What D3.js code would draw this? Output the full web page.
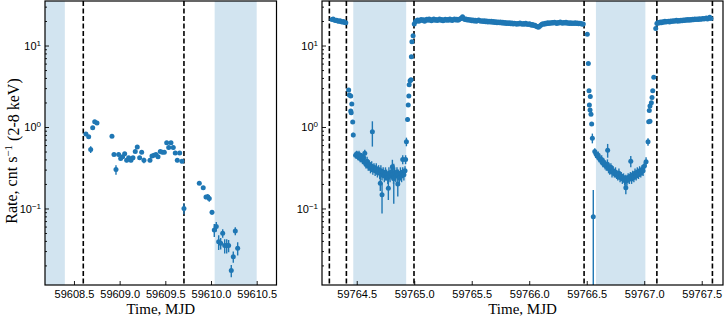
<!DOCTYPE html>
<html lang="en">
<head>
<meta charset="UTF-8">
<title>Light curve</title>
<script src="https://cdn.jsdelivr.net/npm/d3@7/dist/d3.min.js"></script>
<style>
    body { margin: 0; background: #fff; }
    svg { display: block; font-family: "Liberation Serif", "DejaVu Serif", serif; }
    .tick text { font-size: 11px; fill: #000; }
    .tick line { stroke: #000; stroke-width: 0.9; }
    .frame { fill: none; stroke: #000; stroke-width: 1.2; }
    .shade { fill: #d2e4f0; }
    .vline { stroke: #000; stroke-width: 1.6; stroke-dasharray: 5,2.5; }
    .err { stroke: #1f77b4; stroke-width: 1.4; }
    .dot { fill: #1f77b4; }
    .axis-label { font-size: 15px; fill: #000; }
</style>
</head>
<body>
<svg width="725" height="317"></svg>
<script>

    // ---- data ----
    var yDomain = [0.0115, 35.2];
    var yMajor = [0.1, 1, 10];
    var yMinor = [0.02, 0.03, 0.04, 0.05, 0.06, 0.07, 0.08, 0.09,
                  0.2, 0.3, 0.4, 0.5, 0.6, 0.7, 0.8, 0.9,
                  2, 3, 4, 5, 6, 7, 8, 9, 20, 30];

    var leftDomain = [59608.183, 59610.717];
    var leftTicks = [59608.5, 59609.0, 59609.5, 59610.0, 59610.5];
    var leftShade = [[59608.0, 59608.40], [59610.04, 59610.50]];
    var leftDash = [59608.602, 59609.704];

    var rightDomain = [59764.198, 59767.685];
    var rightTicks = [59764.5, 59765.0, 59765.5, 59766.0, 59766.5, 59767.0, 59767.5];
    var rightShade = [[59764.47, 59764.93], [59766.58, 59767.01]];
    var rightDash = [59764.262, 59764.410, 59764.998, 59766.477, 59767.110, 59767.593];

    // [MJD, rate, error]
    var leftRows = [
        [59608.631, 0.82, 0.03], [59608.661, 0.76, 0.03], [59608.683, 0.53, 0.05],
        [59608.705, 0.98, 0.04], [59608.727, 1.16, 0.04], [59608.752, 1.12, 0.04],
        [59608.916, 0.77, 0.03], [59608.938, 0.46, 0.02], [59608.960, 0.30, 0.04],
        [59608.989, 0.46, 0.02], [59609.011, 0.41, 0.02], [59609.033, 0.43, 0.02],
        [59609.055, 0.47, 0.02], [59609.077, 0.39, 0.02], [59609.099, 0.42, 0.02],
        [59609.124, 0.39, 0.02], [59609.146, 0.42, 0.02], [59609.171, 0.50, 0.02],
        [59609.193, 0.57, 0.02], [59609.219, 0.42, 0.02], [59609.241, 0.49, 0.02],
        [59609.266, 0.39, 0.03], [59609.332, 0.39, 0.02], [59609.354, 0.44, 0.02],
        [59609.376, 0.45, 0.02], [59609.398, 0.46, 0.02], [59609.420, 0.43, 0.02],
        [59609.445, 0.50, 0.02], [59609.467, 0.49, 0.02], [59609.489, 0.49, 0.02],
        [59609.515, 0.64, 0.03], [59609.537, 0.56, 0.03], [59609.562, 0.64, 0.03],
        [59609.587, 0.56, 0.03], [59609.609, 0.48, 0.02], [59609.631, 0.39, 0.02],
        [59609.657, 0.48, 0.02], [59609.682, 0.38, 0.02], [59609.704, 0.10, 0.015],
        [59609.872, 0.204, 0.008], [59609.915, 0.179, 0.008], [59609.945, 0.138, 0.008],
        [59609.964, 0.139, 0.010], [59609.981, 0.133, 0.012], [59610.011, 0.090, 0.006],
        [59610.036, 0.0545, 0.010], [59610.058, 0.060, 0.008], [59610.084, 0.039, 0.008],
        [59610.106, 0.0374, 0.006], [59610.128, 0.0497, 0.006], [59610.150, 0.035, 0.007],
        [59610.172, 0.035, 0.007], [59610.193, 0.035, 0.006], [59610.222, 0.0173, 0.003],
        [59610.244, 0.0256, 0.004], [59610.266, 0.053, 0.006], [59610.292, 0.0325, 0.006]
    ];

    var preDip = [
        [59764.285, 20.8, 0], [59764.295, 21.1, 0], [59764.305, 20.6, 0], [59764.315, 20.3, 0],
        [59764.325, 20.5, 0], [59764.335, 20.0, 0], [59764.345, 19.8, 0], [59764.355, 20.1, 0],
        [59764.365, 19.6, 0], [59764.375, 19.4, 0], [59764.385, 19.7, 0], [59764.395, 19.2, 0],
        [59764.405, 19.0, 0]
    ];

    var dip1 = [
        [59764.430, 2.84, 0.1], [59764.436, 2.47, 0.1], [59764.448, 2.40, 0.1], [59764.457, 1.92, 0.08],
        [59764.448, 1.57, 0.07], [59764.452, 1.50, 0.07], [59764.465, 1.15, 0.06], [59764.470, 0.80, 0.05],
        [59764.49, 0.45, 0.04], [59764.50, 0.47, 0.04], [59764.51, 0.43, 0.04], [59764.52, 0.46, 0.05],
        [59764.53, 0.41, 0.04], [59764.54, 0.44, 0.04], [59764.55, 0.39, 0.04], [59764.56, 0.42, 0.05],
        [59764.57, 0.37, 0.04], [59764.58, 0.35, 0.04], [59764.59, 0.38, 0.05], [59764.60, 0.33, 0.04],
        [59764.61, 0.35, 0.04], [59764.62, 0.31, 0.04], [59764.63, 0.33, 0.05], [59764.64, 0.30, 0.04],
        [59764.65, 0.32, 0.04], [59764.66, 0.29, 0.04], [59764.67, 0.31, 0.05], [59764.68, 0.28, 0.04],
        [59764.69, 0.30, 0.04], [59764.70, 0.27, 0.04], [59764.71, 0.29, 0.05], [59764.72, 0.26, 0.04],
        [59764.73, 0.28, 0.04], [59764.74, 0.25, 0.04], [59764.75, 0.27, 0.05], [59764.76, 0.26, 0.04],
        [59764.77, 0.24, 0.04], [59764.78, 0.27, 0.05], [59764.79, 0.25, 0.04], [59764.80, 0.28, 0.04],
        [59764.81, 0.26, 0.04], [59764.82, 0.24, 0.04], [59764.83, 0.27, 0.05], [59764.84, 0.25, 0.04],
        [59764.85, 0.28, 0.04], [59764.86, 0.26, 0.04], [59764.87, 0.24, 0.04], [59764.88, 0.27, 0.05],
        [59764.89, 0.25, 0.04], [59764.90, 0.28, 0.04], [59764.91, 0.26, 0.04], [59764.92, 0.29, 0.04],
        [59764.570, 0.475, 0.05], [59764.636, 0.875, 0.30], [59764.705, 0.204, 0.04], [59764.720, 0.147, 0.06],
        [59764.775, 0.177, 0.05], [59764.810, 0.326, 0.07], [59764.822, 0.234, 0.12], [59764.857, 0.200, 0.06],
        [59764.900, 0.40, 0.05],
        [59764.925, 0.40, 0.05], [59764.932, 0.66, 0.08], [59764.942, 1.24, 0.08], [59764.948, 1.86, 0.1],
        [59764.953, 2.40, 0.1], [59764.956, 3.30, 0.15], [59764.964, 3.70, 0.15], [59764.972, 3.80, 0.15],
        [59764.975, 7.30, 0.3], [59764.980, 11.1, 0.4], [59764.990, 13.2, 0.5]
    ];

    var plateau1 = [
        [59765.00, 18.4], [59765.01, 19.6], [59765.02, 20.2], [59765.03, 20.6], [59765.04, 19.9],
        [59765.05, 20.5], [59765.06, 20.9], [59765.07, 20.3], [59765.08, 20.7], [59765.09, 19.9],
        [59765.10, 20.6], [59765.11, 21.0], [59765.12, 20.4], [59765.13, 21.2], [59765.14, 20.6],
        [59765.15, 20.2], [59765.16, 20.9], [59765.17, 21.1], [59765.18, 20.4], [59765.19, 20.8],
        [59765.20, 20.3], [59765.21, 20.7], [59765.22, 21.1], [59765.23, 20.5], [59765.24, 20.9],
        [59765.25, 20.2], [59765.26, 20.6], [59765.27, 21.0], [59765.28, 20.4], [59765.29, 20.8],
        [59765.30, 20.5], [59765.31, 21.1], [59765.32, 20.7], [59765.33, 20.3], [59765.34, 20.9],
        [59765.35, 21.2], [59765.36, 20.6], [59765.37, 21.0], [59765.38, 20.5], [59765.39, 20.8],
        [59765.40, 21.3], [59765.41, 21.6], [59765.42, 22.5], [59765.43, 21.4], [59765.44, 20.8],
        [59765.45, 21.1], [59765.46, 20.6], [59765.47, 20.9], [59765.48, 20.4], [59765.49, 20.7],
        [59765.50, 20.2], [59765.51, 20.6], [59765.52, 20.0], [59765.53, 20.4], [59765.54, 19.9],
        [59765.55, 20.3], [59765.56, 20.6], [59765.57, 20.1], [59765.58, 19.8], [59765.59, 20.2],
        [59765.60, 19.7], [59765.61, 20.1], [59765.62, 19.6], [59765.63, 20.0], [59765.64, 19.5],
        [59765.65, 19.9], [59765.66, 19.4], [59765.67, 19.8], [59765.68, 19.3], [59765.69, 19.7],
        [59765.70, 19.2], [59765.71, 19.6], [59765.72, 19.1], [59765.73, 19.5], [59765.74, 19.0],
        [59765.75, 19.4], [59765.76, 18.9], [59765.77, 19.3], [59765.78, 18.8], [59765.79, 19.2],
        [59765.80, 18.7], [59765.81, 19.1], [59765.82, 18.6], [59765.83, 19.0], [59765.84, 18.5],
        [59765.85, 18.9], [59765.86, 18.4], [59765.87, 18.8], [59765.88, 18.6], [59765.89, 18.3],
        [59765.90, 18.7], [59765.91, 18.4], [59765.92, 18.9], [59765.93, 18.5], [59765.94, 18.2],
        [59765.95, 18.6], [59765.96, 18.3], [59765.97, 18.8], [59765.98, 18.4], [59765.99, 18.1],
        [59766.00, 18.5], [59766.01, 18.2], [59766.02, 17.8], [59766.03, 18.1], [59766.04, 17.6],
        [59766.05, 17.8], [59766.06, 17.3], [59766.07, 17.0], [59766.08, 16.8], [59766.09, 17.3],
        [59766.10, 17.8], [59766.11, 18.2], [59766.12, 18.5], [59766.13, 18.3], [59766.14, 18.8],
        [59766.15, 18.5], [59766.16, 19.0], [59766.17, 18.7], [59766.18, 19.1], [59766.19, 18.8],
        [59766.20, 19.2], [59766.21, 18.9], [59766.22, 19.3], [59766.23, 19.0], [59766.24, 18.7],
        [59766.25, 19.2], [59766.26, 18.9], [59766.27, 19.4], [59766.28, 19.0], [59766.29, 18.8],
        [59766.30, 19.2], [59766.31, 18.9], [59766.32, 19.3], [59766.33, 18.8], [59766.34, 19.1],
        [59766.35, 18.7], [59766.36, 19.0], [59766.37, 18.6], [59766.38, 18.9], [59766.39, 18.7],
        [59766.40, 19.0], [59766.41, 18.6], [59766.42, 18.9], [59766.43, 18.5], [59766.44, 18.8],
        [59766.45, 18.6], [59766.46, 18.3], [59766.47, 18.4]
    ];

    var dip2 = [
        [59766.505, 13.8, 0.5], [59766.514, 6.0, 0.25], [59766.520, 2.79, 0.1], [59766.531, 2.36, 0.1],
        [59766.523, 1.86, 0.08], [59766.529, 1.62, 0.07], [59766.537, 1.43, 0.07], [59766.543, 1.09, 0.06],
        [59766.549, 0.73, 0.10], [59766.557, 0.079, 0.09],
        [59766.57, 0.50, 0.05], [59766.58, 0.47, 0.05], [59766.59, 0.44, 0.04], [59766.60, 0.45, 0.05],
        [59766.61, 0.41, 0.04], [59766.62, 0.39, 0.04], [59766.63, 0.40, 0.05], [59766.64, 0.36, 0.04],
        [59766.65, 0.37, 0.04], [59766.66, 0.34, 0.04], [59766.67, 0.33, 0.04], [59766.68, 0.35, 0.05],
        [59766.69, 0.31, 0.04], [59766.70, 0.30, 0.04], [59766.71, 0.32, 0.04], [59766.72, 0.28, 0.04],
        [59766.73, 0.29, 0.04], [59766.74, 0.27, 0.03], [59766.75, 0.28, 0.04], [59766.76, 0.26, 0.03],
        [59766.77, 0.25, 0.03], [59766.78, 0.27, 0.04], [59766.79, 0.24, 0.03], [59766.80, 0.25, 0.03],
        [59766.81, 0.23, 0.03], [59766.82, 0.24, 0.03], [59766.83, 0.22, 0.03], [59766.84, 0.23, 0.03],
        [59766.85, 0.22, 0.03], [59766.86, 0.24, 0.03], [59766.87, 0.23, 0.03], [59766.88, 0.25, 0.03],
        [59766.89, 0.23, 0.03], [59766.90, 0.26, 0.03], [59766.91, 0.24, 0.03], [59766.92, 0.27, 0.04],
        [59766.93, 0.25, 0.03], [59766.94, 0.28, 0.04], [59766.95, 0.26, 0.03], [59766.96, 0.29, 0.04],
        [59766.97, 0.27, 0.03], [59766.98, 0.30, 0.04], [59766.99, 0.29, 0.04], [59767.00, 0.33, 0.04],
        [59766.682, 0.52, 0.10], [59766.883, 0.38, 0.06], [59766.840, 0.18, 0.03],
        [59767.016, 0.375, 0.05], [59767.033, 0.66, 0.07], [59767.039, 1.16, 0.06], [59767.050, 1.18, 0.06],
        [59767.044, 1.59, 0.07], [59767.050, 1.81, 0.08], [59767.062, 1.99, 0.08], [59767.068, 2.31, 0.1],
        [59767.074, 2.79, 0.1], [59767.083, 4.07, 0.15]
    ];

    var plateau2 = [
        [59767.10, 16.2], [59767.11, 18.6], [59767.12, 19.2], [59767.13, 18.9], [59767.14, 19.4],
        [59767.15, 19.1], [59767.16, 19.6], [59767.17, 19.3], [59767.18, 19.8], [59767.19, 19.4],
        [59767.20, 19.7], [59767.21, 19.9], [59767.22, 19.5], [59767.23, 20.0], [59767.24, 19.7],
        [59767.25, 20.2], [59767.26, 19.8], [59767.27, 20.1], [59767.28, 20.4], [59767.29, 19.9],
        [59767.30, 20.3], [59767.31, 20.0], [59767.32, 20.5], [59767.33, 20.2], [59767.34, 20.6],
        [59767.35, 20.3], [59767.36, 20.7], [59767.37, 20.4], [59767.38, 20.8], [59767.39, 20.5],
        [59767.40, 20.9], [59767.41, 20.6], [59767.42, 21.0], [59767.43, 20.7], [59767.44, 21.1],
        [59767.45, 20.8], [59767.46, 21.2], [59767.47, 20.9], [59767.48, 21.3], [59767.49, 21.0],
        [59767.50, 21.2], [59767.51, 21.5], [59767.52, 21.1], [59767.53, 21.4], [59767.54, 21.7],
        [59767.55, 21.2], [59767.56, 21.6], [59767.57, 22.2], [59767.58, 21.4]
    ];

    var rightRows = preDip.concat(dip1, plateau1, dip2, plateau2);

    // ---- layout ----
    var svg = d3.select('svg');
    var plotTop = 1, plotBottom = 285;

    var panels = [
        { id: 'l', x0: 45, x1: 276.5, domain: leftDomain, ticks: leftTicks,
          shade: leftShade, dash: leftDash, rows: leftRows },
        { id: 'r', x0: 322, x1: 723, domain: rightDomain, ticks: rightTicks,
          shade: rightShade, dash: rightDash, rows: rightRows }
    ];

    var yScale = d3.scaleLog().domain(yDomain).range([plotBottom - plotTop, 0]);

    panels.forEach(function(p) {
        var w = p.x1 - p.x0, h = plotBottom - plotTop;
        var xScale = d3.scaleLinear().domain(p.domain).range([0, w]);

        var g = svg.append('g').attr('transform', 'translate(' + [p.x0, plotTop] + ')');

        g.append('clipPath').attr('id', 'clip-' + p.id)
            .append('rect').attr('width', w).attr('height', h);

        var plot = g.append('g').attr('clip-path', 'url(#clip-' + p.id + ')');

        plot.selectAll('.shade').data(p.shade).enter().append('rect')
            .classed('shade', true)
            .attr('x', function(d) { return xScale(d[0]); })
            .attr('width', function(d) { return xScale(d[1]) - xScale(d[0]); })
            .attr('y', 0).attr('height', h);

        plot.selectAll('.vline').data(p.dash).enter().append('line')
            .classed('vline', true)
            .attr('x1', function(d) { return xScale(d); })
            .attr('x2', function(d) { return xScale(d); })
            .attr('y1', 0).attr('y2', h);

        plot.selectAll('.err').data(p.rows.filter(function(d) { return d[2] > 0; }))
            .enter().append('line')
            .classed('err', true)
            .attr('x1', function(d) { return xScale(d[0]); })
            .attr('x2', function(d) { return xScale(d[0]); })
            .attr('y1', function(d) { return yScale(d[1] + d[2]); })
            .attr('y2', function(d) {
                return d[1] - d[2] > 0 ? yScale(d[1] - d[2]) : h + 5;
            });

        plot.selectAll('.dot').data(p.rows).enter().append('circle')
            .classed('dot', true)
            .attr('cx', function(d) { return xScale(d[0]); })
            .attr('cy', function(d) { return yScale(d[1]); })
            .attr('r', 2.5);

        // x axis, ticks pointing in
        var xAxis = d3.axisBottom(xScale).tickValues(p.ticks)
            .tickSizeInner(-4).tickSizeOuter(0).tickPadding(5)
            .tickFormat(d3.format('.1f'));
        var xg = g.append('g').attr('transform', 'translate(0,' + h + ')').call(xAxis);
        xg.select('.domain').remove();
        xg.selectAll('.tick text').attr('y', 5);

        // y axis minor ticks
        var yMinorAxis = d3.axisLeft(yScale).tickValues(yMinor)
            .tickSizeInner(-2).tickSizeOuter(0).tickFormat('');
        g.append('g').call(yMinorAxis).select('.domain').remove();

        // y axis major ticks with 10^n labels
        var yAxis = d3.axisLeft(yScale).tickValues(yMajor)
            .tickSizeInner(-4).tickSizeOuter(0).tickPadding(4).tickFormat('');
        var yg = g.append('g').call(yAxis);
        yg.select('.domain').remove();
        yg.selectAll('.tick text').each(function(d) {
            var t = d3.select(this).attr('dy', '0.32em');
            t.append('tspan').text('10');
            t.append('tspan').attr('dy', '-0.45em').style('font-size', '8px')
                .text(String(Math.round(Math.log10(d))).replace('-', '\u2212'));
        });

        g.append('rect').classed('frame', true).attr('width', w).attr('height', h);

        g.append('text').classed('axis-label', true)
            .attr('x', w / 2).attr('y', 314 - plotTop)
            .attr('text-anchor', 'middle')
            .text('Time, MJD');
    });

    var ylab = svg.append('text').classed('axis-label', true)
        .style('font-size', '16px')
        .attr('transform', 'translate(17,151) rotate(-90)')
        .attr('text-anchor', 'middle');
    ylab.append('tspan').text('Rate, cnt s');
    ylab.append('tspan').attr('dy', '-0.45em').style('font-size', '11px').text('\u22121');
    ylab.append('tspan').attr('dy', '0.45em').text(' (2-8 keV)');

</script>
</body>
</html>
